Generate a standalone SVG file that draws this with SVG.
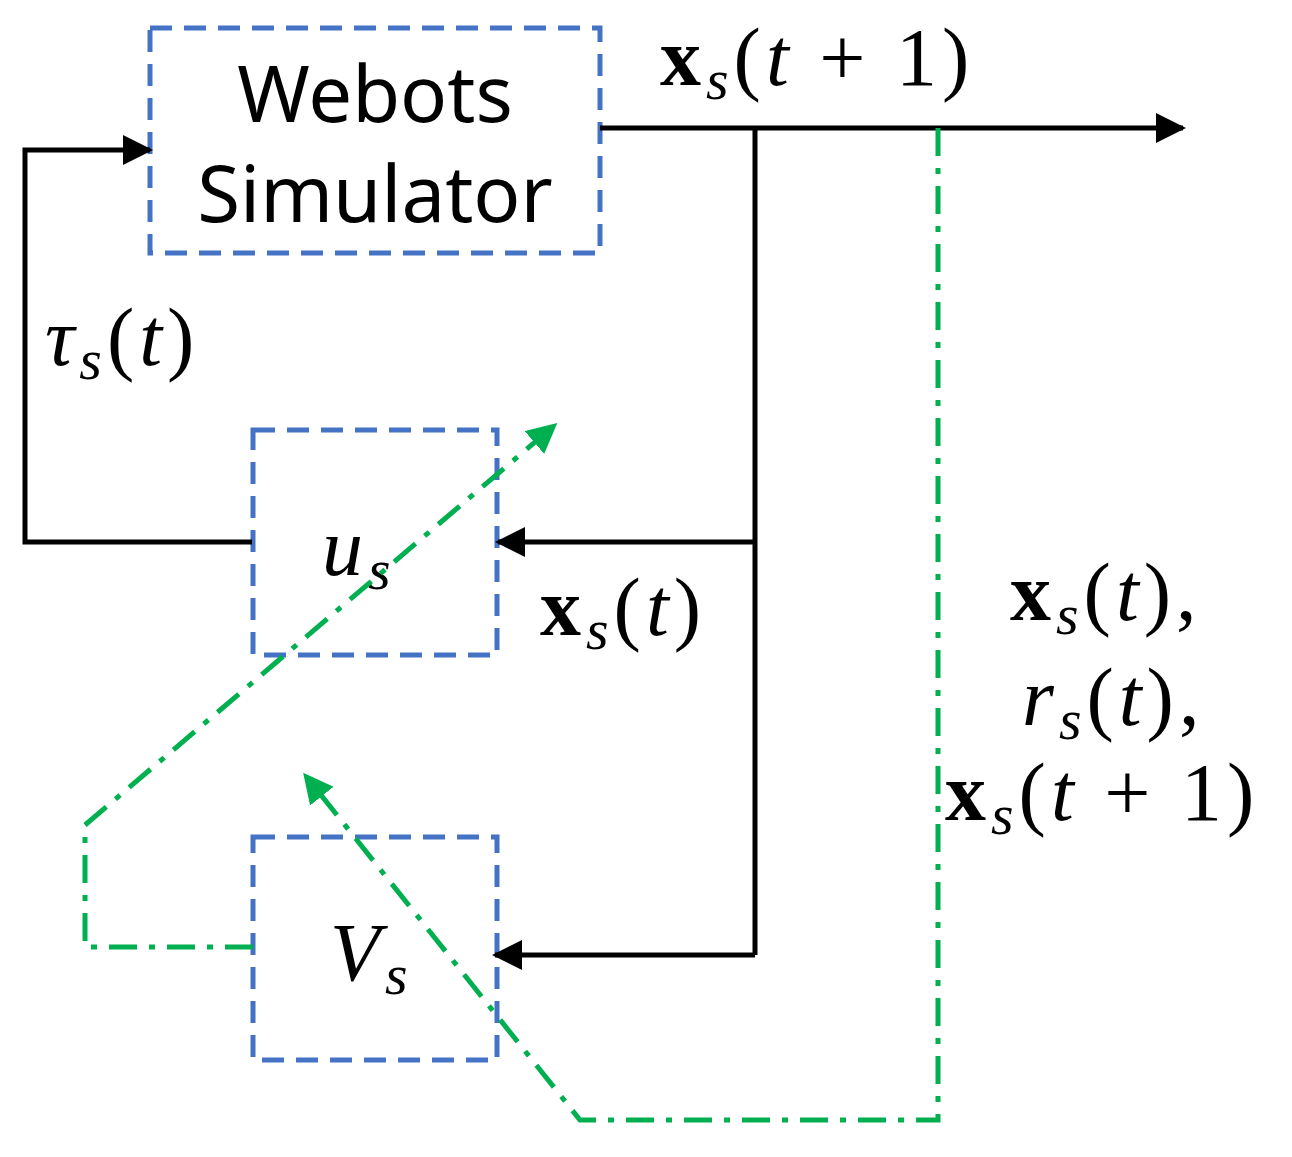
<svg xmlns="http://www.w3.org/2000/svg" width="1292" height="1157" viewBox="0 0 1292 1157">
<style>
.box{fill:none;stroke:#4472C4;stroke-width:5;stroke-dasharray:22,12}
.blk{fill:none;stroke:#000;stroke-width:5}
.grn{fill:none;stroke:#00B050;stroke-width:5;stroke-dasharray:28,12,6,12}
.lbl{font-family:"Noto Sans",sans-serif;font-size:78px;fill:#000}
.m{font-family:"Liberation Serif",serif;font-size:82px;fill:#000;letter-spacing:5px}
.i{font-style:italic}
.b{font-weight:bold}
</style>
<defs>
<marker id="ab2" viewBox="0 0 10 10" refX="9" refY="5" markerWidth="30" markerHeight="30" markerUnits="userSpaceOnUse" orient="auto"><path d="M0,0L10,5L0,10z" fill="#000"/></marker>
<marker id="ag" viewBox="0 0 10 10" refX="9" refY="5" markerWidth="30" markerHeight="30" markerUnits="userSpaceOnUse" orient="auto"><path d="M0,0L10,5L0,10z" fill="#00B050"/></marker>
</defs>
<g id="webots"><rect class="box" x="150" y="28" width="450" height="225"/>
<text class="lbl" x="375" y="122" text-anchor="middle">Webots</text>
<text class="lbl" x="375" y="222" text-anchor="middle">Simulator</text></g>
<g id="us"><rect class="box" x="253" y="430" width="244" height="225"/>
<text class="m i" x="322" y="575">u<tspan font-size="58" dy="14">s</tspan></text></g>
<g id="vs"><rect class="box" x="253" y="837" width="244" height="223"/>
<text class="m i" x="330" y="980">V<tspan font-size="58" dy="14">s</tspan></text></g>
<g id="connectors">
<path class="blk" d="M600,128H1183" marker-end="url(#ab2)"/>
<path class="blk" d="M755,128V955"/>
<path class="blk" d="M755,542H498" marker-end="url(#ab2)"/>
<path class="blk" d="M755,955H495" marker-end="url(#ab2)"/>
<path class="blk" d="M252,542H25V150H150" marker-end="url(#ab2)"/>
<path class="grn" d="M938,128V1120H580L305,775" marker-end="url(#ag)"/>
<path class="grn" d="M253,947H85V825L555,425" marker-end="url(#ag)"/>
</g>
<g id="labels">
<text class="m" x="660" y="85"><tspan class="b">x</tspan><tspan class="i" font-size="58" dy="14">s</tspan><tspan dy="-14">(</tspan><tspan class="i">t</tspan> + 1)</text>
<text class="m" x="45" y="365"><tspan class="i">τ</tspan><tspan class="i" font-size="58" dy="14">s</tspan><tspan dy="-14">(</tspan><tspan class="i">t</tspan>)</text>
<text class="m" x="540" y="635"><tspan class="b">x</tspan><tspan class="i" font-size="58" dy="14">s</tspan><tspan dy="-14">(</tspan><tspan class="i">t</tspan>)</text>
<text class="m" x="1010" y="620"><tspan class="b">x</tspan><tspan class="i" font-size="58" dy="14">s</tspan><tspan dy="-14">(</tspan><tspan class="i">t</tspan>),</text>
<text class="m" x="1022" y="725"><tspan class="i">r</tspan><tspan class="i" font-size="58" dy="14">s</tspan><tspan dy="-14">(</tspan><tspan class="i">t</tspan>),</text>
<text class="m" x="945" y="820"><tspan class="b">x</tspan><tspan class="i" font-size="58" dy="14">s</tspan><tspan dy="-14">(</tspan><tspan class="i">t</tspan> + 1)</text>
</g>
</svg>
